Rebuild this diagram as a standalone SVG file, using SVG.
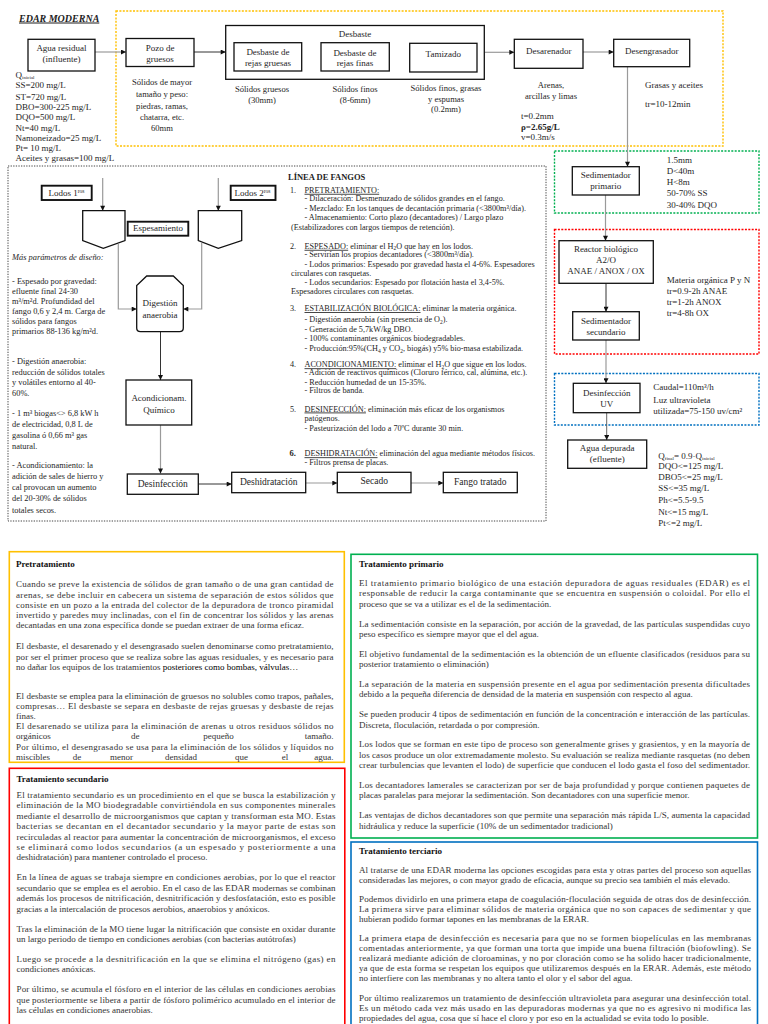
<svg xmlns="http://www.w3.org/2000/svg" width="768" height="1024" viewBox="0 0 768 1024">
<defs>
<marker id="ah" viewBox="0 0 10 10" refX="10" refY="5" markerWidth="5.5" markerHeight="5" markerUnits="userSpaceOnUse" orient="auto"><path d="M0,0 L10,5 L0,10 Z" fill="#111"/></marker>
</defs>
<style>
text{font-family:"Liberation Serif","Times New Roman",serif;fill:#1e1e1e}
.b{fill:#fff;stroke:#111;stroke-width:1.3}
.bl{fill:#fff;stroke:#111;stroke-width:1.9}
.l{font-size:9px;text-anchor:middle}
.l95{font-size:9.5px;text-anchor:middle}
.c{font-size:8.6px;text-anchor:middle}
.n{font-size:9px}
.m{font-size:8.4px}
.f{font-size:8.2px}
.g{stroke:#9a9a9a;stroke-width:1.2;fill:none;marker-end:url(#ah)}
.k{stroke:#333;stroke-width:1;fill:none;marker-end:url(#ah)}
.dy{fill:none;stroke:#FFC000;stroke-width:1.4;stroke-dasharray:2 1.4}
.dg{fill:none;stroke:#00B050;stroke-width:1.4;stroke-dasharray:2 1.4}
.dr{fill:none;stroke:#FF0000;stroke-width:1.4;stroke-dasharray:2 1.4}
.db{fill:none;stroke:#0070C0;stroke-width:1.4;stroke-dasharray:2 1.4}
.dk{fill:none;stroke:#444;stroke-width:1;stroke-dasharray:1.3 1.3}
.p{font-size:9px;fill:#333}
.h{font-size:9px;font-weight:bold;fill:#111}
.u{text-decoration:underline}
.fr{stroke-width:1.6;fill:none}
</style>
<rect width="768" height="1024" fill="#fff"/>

<!-- zone frames -->
<g id="zones">
<rect class="dy" x="116" y="11" width="607" height="135"/>
<rect class="dk" x="8" y="166" width="538" height="355"/>
<rect class="dg" x="554.5" y="151" width="204.5" height="62"/>
<rect class="dr" x="554.5" y="229.5" width="204.5" height="124.5"/>
<rect class="db" x="554.5" y="373.5" width="204.5" height="51.5"/>
</g>

<text x="19" y="21.5" font-size="10" font-weight="bold" font-style="italic" class="u">EDAR MODERNA</text>

<!-- connectors -->
<g id="connectors">
<path class="g" d="M95,52 H126"/>
<path class="k" d="M194,52 H225.7"/>
<path class="g" d="M302,57 H321"/>
<path class="g" d="M389,57 H409.5"/>
<path class="g" d="M484.3,52.3 H514.3"/>
<path class="g" d="M583,52 H613.7"/>
<path class="g" d="M627.5,67 V166.7"/>
<path class="g" d="M605.5,195 V240.7"/>
<path class="k" d="M606,283.3 V311.7"/>
<path class="g" d="M606,340 V383.3"/>
<path class="k" d="M606.7,412.7 V440" style="stroke:#666"/>
<path class="g" d="M102.7,178 V210.7"/>
<path class="g" d="M218.3,178 V210.7"/>
<path class="g" d="M118.3,244 V309 H136.7"/>
<path class="g" d="M201.7,243 V309 H183.3"/>
<path class="k" d="M160.5,332 V380"/>
<path class="g" d="M160.5,425 V473.5"/>
<path class="k" d="M198.3,484 H231.7"/>
<path class="g" d="M305.7,483 H337.3"/>
<path class="g" d="M411,483 H443.3"/>
</g>

<!-- water line nodes -->
<g id="n-agua"><rect class="b" x="28" y="39.3" width="67" height="31.7"/><text class="l" x="61.5" y="50.7">Agua residual</text><text class="l" x="61.5" y="62.3">(influente)</text></g>
<g id="n-pozo"><rect class="b" x="126" y="38.5" width="68" height="28"/><text class="l" x="160" y="50.7">Pozo de</text><text class="l" x="160" y="62">gruesos</text></g>
<g id="n-desbaste"><rect class="b" x="225.7" y="25.5" width="258.6" height="53.8"/><text class="l" x="355" y="36.7">Desbaste</text></g>
<g id="n-rejas-gruesas"><rect class="b" x="234" y="42.7" width="67.7" height="28.3"/><text class="l" x="268" y="54.7">Desbaste de</text><text class="l" x="268" y="65.7">rejas gruesas</text></g>
<g id="n-rejas-finas"><rect class="b" x="321" y="42.7" width="68.3" height="28.3"/><text class="l" x="355" y="55.7">Desbaste de</text><text class="l" x="355" y="66.3">rejas finas</text></g>
<g id="n-tamizado"><rect class="b" x="409.7" y="43.3" width="67.3" height="28.7"/><text class="l" x="443.3" y="57">Tamizado</text></g>
<g id="n-desarenador"><rect class="b" x="514.3" y="39.3" width="68.7" height="29"/><text class="l" x="548.7" y="53.7">Desarenador</text></g>
<g id="n-desengrasador"><rect class="b" x="613.7" y="39.3" width="76" height="27.4"/><text class="l" x="651.7" y="53.7">Desengrasador</text></g>
<g id="n-sed-primario"><rect class="b" x="572.3" y="166.7" width="67" height="28.3"/><text class="l" x="605.8" y="178">Sedimentador</text><text class="l" x="605.8" y="189">primario</text></g>
<g id="n-reactor"><rect class="b" x="559" y="240.7" width="94.3" height="42.6"/><text class="l" x="606" y="252">Reactor biológico</text><text class="l" x="606" y="263">A2/O</text><text class="l" x="606" y="274">ANAE / ANOX / OX</text></g>
<g id="n-sed-secundario"><rect class="b" x="572.7" y="311.7" width="66.6" height="28.3"/><text class="l" x="606" y="323.7">Sedimentador</text><text class="l" x="606" y="334.7">secundario</text></g>
<g id="n-uv"><rect class="b" x="573.3" y="383.3" width="66.7" height="29.4"/><text class="l" x="606.7" y="396.3">Desinfección</text><text class="l" x="606.7" y="407">UV</text></g>
<g id="n-agua-depurada"><rect class="b" x="567.7" y="440" width="79" height="28.3"/><text class="l" x="607.2" y="450.7">Agua depurada</text><text class="l" x="607.2" y="462.3">(efluente)</text></g>

<!-- water line annotations -->
<g id="notes-water">
<text class="n" x="15.5" y="78">Q<tspan font-size="5" dy="1">inicial</tspan></text>
<text class="n" x="15.5" y="87.8">SS=200 mg/L</text>
<text class="n" x="15.5" y="99.7">ST=720 mg/L</text>
<text class="n" x="15.5" y="110.3">DBO=300-225 mg/L</text>
<text class="n" x="15.5" y="120.3">DQO=500 mg/L</text>
<text class="n" x="15.5" y="130.7">Nt=40 mg/L</text>
<text class="n" x="15.5" y="140.7">Namoneizado=25 mg/L</text>
<text class="n" x="15.5" y="150.7">Pt= 10 mg/L</text>
<text class="n" x="15.5" y="161.3">Aceites y grasas=100 mg/L</text>
<text class="c" x="162" y="85">Sólidos de mayor</text>
<text class="c" x="162" y="96.7">tamaño y peso:</text>
<text class="c" x="162" y="109">piedras, ramas,</text>
<text class="c" x="162" y="120.3">chatarra, etc.</text>
<text class="c" x="162" y="130.7">60mm</text>
<text class="c" x="262" y="92.3">Sólidos gruesos</text>
<text class="c" x="262" y="102.7">(30mm)</text>
<text class="c" x="355" y="92.3">Sólidos finos</text>
<text class="c" x="355" y="102.7">(8-6mm)</text>
<text class="c" x="446" y="91.3">Sólidos finos, grasas</text>
<text class="c" x="446" y="102">y espumas</text>
<text class="c" x="446" y="112">(0.2mm)</text>
<text class="c" x="551" y="88">Arenas,</text>
<text class="c" x="551" y="99">arcillas y limas</text>
<text class="n" x="521" y="118.7" font-size="8.6">t=0.2mm</text>
<text class="n" x="521" y="129.7" font-size="8.6" font-weight="bold">ρ=2.65g/L</text>
<text class="n" x="521" y="140" font-size="8.6">v=0.3m/s</text>
<text class="n" x="645" y="88">Grasas y aceites</text>
<text class="n" x="645" y="107">tr=10-12min</text>
<text class="n" x="666.7" y="163">1.5mm</text>
<text class="n" x="666.7" y="174">D&lt;40m</text>
<text class="n" x="666.7" y="184.7">H&lt;8m</text>
<text class="n" x="666.7" y="196.3">50-70% SS</text>
<text class="n" x="666.7" y="208">30-40% DQO</text>
<text class="n" x="666.7" y="283">Materia orgánica P y N</text>
<text class="n" x="666.7" y="294">tr=0.9-2h ANAE</text>
<text class="n" x="666.7" y="304.7">tr=1-2h ANOX</text>
<text class="n" x="666.7" y="315.7">tr=4-8h OX</text>
<text class="n" x="653.3" y="390.3">Caudal=110m³/h</text>
<text class="n" x="653.3" y="403">Luz ultravioleta</text>
<text class="n" x="653.3" y="413.7">utilizada=75-150  uv/cm²</text>
<text class="n" x="658.3" y="458.7">Q<tspan font-size="5" dy="1">final</tspan><tspan dy="-1">= 0.9·Q</tspan><tspan font-size="5" dy="1">inicial</tspan></text>
<text class="n" x="658.3" y="469">DQO&lt;=125 mg/L</text>
<text class="n" x="658.3" y="480.3">DBO5&lt;=25 mg/L</text>
<text class="n" x="658.3" y="491.3">SS&lt;=35 mg/L</text>
<text class="n" x="658.3" y="503">Ph&lt;=5.5-9.5</text>
<text class="n" x="658.3" y="514.7">Nt&lt;=15 mg/L</text>
<text class="n" x="658.3" y="525.7">Pt&lt;=2 mg/L</text>
</g>

<!-- sludge line nodes -->
<g id="n-lodos1"><rect class="bl" x="41.7" y="185.7" width="50" height="14.3"/><text class="l" x="66.5" y="195.7">Lodos 1<tspan font-size="5.5" dy="-3">ros</tspan></text></g>
<g id="n-lodos2"><rect class="bl" x="230.7" y="185.7" width="44.8" height="14.3"/><text class="l" x="252.5" y="195.7">Lodos 2<tspan font-size="5.5" dy="-3">ros</tspan></text></g>
<g id="n-espes-1"><polygon class="b" points="82.7,210.7 125,210.7 125,240.5 103.3,248.3 82.7,240.5"/></g>
<g id="n-espes-2"><polygon class="b" points="198.3,210.7 241.7,210.7 241.7,240.5 218.3,248.3 198.3,240.5"/></g>
<g id="n-espesamiento"><rect class="bl" x="127.7" y="221.7" width="60.6" height="14"/><text class="l" x="158" y="231.3">Espesamiento</text></g>
<g id="n-digestion"><path class="b" d="M146.7,276 H173.3 L183.3,285.5 V328 Q183.3,331.7 179.5,331.7 H140.5 Q136.7,331.7 136.7,328 V285.5 Z"/><text class="l" x="160" y="306.3">Digestión</text><text class="l" x="160" y="318">anaerobia</text></g>
<g id="n-acond"><rect class="b" x="126" y="380" width="65.7" height="45"/><text class="l" x="159" y="400.7">Acondicionam.</text><text class="l" x="159" y="413">Químico</text></g>
<g id="n-desinf"><rect class="b" x="127.3" y="474" width="71" height="20.3"/><text class="l95" x="162.8" y="486.5">Desinfección</text></g>
<g id="n-deshid"><rect class="b" x="231.7" y="472.3" width="74" height="20.4"/><text class="l95" x="268.7" y="485">Deshidratación</text></g>
<g id="n-secado"><rect class="b" x="337.3" y="472.3" width="73.7" height="20.4"/><text class="l95" x="374.2" y="484">Secado</text></g>
<g id="n-fango"><rect class="b" x="443.3" y="472.3" width="74" height="20.4"/><text class="l95" x="480.3" y="485">Fango tratado</text></g>

<!-- sludge line design notes -->
<g id="notes-sludge">
<text class="m" x="12" y="259.7" font-style="italic">Más parámetros de diseño:</text>
<text class="m" x="12" y="283.7">- Espesado por gravedad:</text>
<text class="m" x="12" y="294">efluente final 24-30</text>
<text class="m" x="12" y="304">m³/m²d. Profundidad del</text>
<text class="m" x="12" y="314">fango 0,6 y 2,4 m. Carga de</text>
<text class="m" x="12" y="324">sólidos para fangos</text>
<text class="m" x="12" y="334">primarios 88-136 kg/m²d.</text>
<text class="m" x="12" y="364">- Digestión anaerobia:</text>
<text class="m" x="12" y="374.5">reducción de sólidos totales</text>
<text class="m" x="12" y="385">y volátiles entorno al 40-</text>
<text class="m" x="12" y="396">60%.</text>
<text class="m" x="12" y="416.3">- 1 m³ biogas&lt;&gt; 6,8 kW h</text>
<text class="m" x="12" y="427.3">de electricidad, 0,8 L de</text>
<text class="m" x="12" y="438">gasolina ó  0,66 m³ gas</text>
<text class="m" x="12" y="449">natural.</text>
<text class="m" x="12" y="468">- Acondicionamiento: la</text>
<text class="m" x="12" y="479">adición de sales de hierro y</text>
<text class="m" x="12" y="490.3">cal provocan un aumento</text>
<text class="m" x="12" y="501.3">del 20-30% de sólidos</text>
<text class="m" x="12" y="513">totales secos.</text>
</g>

<g id="notes-fangos">
<text x="288" y="179.5" font-size="8.5" font-weight="bold">LÍNEA DE FANGOS</text>
<text class="f" x="290" y="192.8">1.</text>
<text class="f" x="304.5" y="192.8"><tspan class="u">PRETRATAMIENTO:</tspan></text>
<text class="f" x="304.5" y="201.1">- Dilaceración: Desmenuzado de sólidos grandes en el fango.</text>
<text class="f" x="304.5" y="210.5">- Mezclado: En los tanques de decantación primaria (&lt;3800m³/día).</text>
<text class="f" x="304.5" y="219.5">- Almacenamiento: Corto plazo (decantadores) / Largo plazo</text>
<text class="f" x="291" y="229.5">(Estabilizadores con largos tiempos de retención).</text>
<text class="f" x="290" y="248.8">2.</text>
<text class="f" x="304.5" y="248.8"><tspan class="u">ESPESADO:</tspan> eliminar el H<tspan font-size="5.5" dy="1.5">2</tspan><tspan dy="-1.5">O que hay en los lodos.</tspan></text>
<text class="f" x="304.5" y="257.1">- Servirían los propios decantadores (&lt;3800m³/día).</text>
<text class="f" x="304.5" y="266.8">- Lodos primarios: Espesado por gravedad hasta el 4-6%. Espesadores</text>
<text class="f" x="291" y="275.5">circulares con rasquetas.</text>
<text class="f" x="304.5" y="285.1">- Lodos secundarios: Espesado por flotación hasta el 3,4-5%.</text>
<text class="f" x="291" y="293.8">Espesadores circulares con rasquetas.</text>
<text class="f" x="290" y="311.1">3.</text>
<text class="f" x="304.5" y="311.1"><tspan class="u">ESTABILIZACIÓN BIOLÓGICA:</tspan> eliminar la materia orgánica.</text>
<text class="f" x="304.5" y="322.1">- Digestión anaerobia (sin presencia de O<tspan font-size="5.5" dy="1.5">2</tspan><tspan dy="-1.5">).</tspan></text>
<text class="f" x="304.5" y="332.1">- Generación de 5,7kW/kg DBO.</text>
<text class="f" x="304.5" y="341.1">- 100% contaminantes orgánicos biodegradables.</text>
<text class="f" x="304.5" y="351.1">- Producción:95%(CH<tspan font-size="5.5" dy="1.5">4</tspan><tspan dy="-1.5"> y CO</tspan><tspan font-size="5.5" dy="1.5">2</tspan><tspan dy="-1.5">, biogás) y5% bio-masa estabilizada.</tspan></text>
<text class="f" x="290" y="367.3">4.</text>
<text class="f" x="304.5" y="367.3"><tspan class="u">ACONDICIONAMIENTO:</tspan> eliminar el H<tspan font-size="5.5" dy="1.5">2</tspan><tspan dy="-1.5">O que sigue en los lodos.</tspan></text>
<text class="f" x="304.5" y="375.3">- Adición de reactivos químicos (Cloruro férrico, cal, alúmina, etc.).</text>
<text class="f" x="304.5" y="384.5">- Reducción humedad de un 15-35%.</text>
<text class="f" x="304.5" y="393.1">- Filtros de banda.</text>
<text class="f" x="290" y="411.5">5.</text>
<text class="f" x="304.5" y="411.5"><tspan class="u">DESINFECCIÓN:</tspan> eliminación más eficaz de los organismos</text>
<text class="f" x="304.5" y="420.7">patógenos.</text>
<text class="f" x="304.5" y="430.7">-  Pasteurización del lodo a 70ºC durante 30 min.</text>
<text x="289.5" y="456.3" font-size="8.5" font-weight="bold" font-family="Liberation Sans, Arial, sans-serif">6.</text>
<text class="f" x="304.5" y="456.3"><tspan class="u">DESHIDRATACIÓN:</tspan> eliminación del agua mediante métodos físicos.</text>
<text class="f" x="304.5" y="465">- Filtros prensa de placas.</text>
</g>

<!-- text panels -->
<g id="panel-pretratamiento">
<rect class="fr" x="9.3" y="551.7" width="335" height="210.6" stroke="#FFC000"/>
<text class="h" x="16" y="567.3">Pretratamiento</text>
<text class="p" x="16" y="587.3" textLength="317.5" lengthAdjust="spacing">Cuando se preve la existencia de sólidos de gran tamaño o de una gran cantidad de</text>
<text class="p" x="16" y="597.5" textLength="317.5" lengthAdjust="spacing">arenas, se debe incluir en cabecera un sistema de separación de estos sólidos que</text>
<text class="p" x="16" y="607.7" textLength="317.5" lengthAdjust="spacing">consiste en un pozo a la entrada del colector de la depuradora de tronco piramidal</text>
<text class="p" x="16" y="617.9" textLength="317.5" lengthAdjust="spacing">invertido y paredes muy inclinadas, con el fin de concentrar los sólidos y las arenas</text>
<text class="p" x="16" y="628.1">decantadas en una zona específica donde se puedan extraer de una forma eficaz.</text>
<text class="p" x="16" y="649.3" textLength="317.5" lengthAdjust="spacing">El desbaste, el desarenado y el desengrasado suelen denominarse como pretratamiento,</text>
<text class="p" x="16" y="659.5" textLength="317.5" lengthAdjust="spacing">por ser el primer proceso que se realiza sobre las aguas residuales, y es necesario para</text>
<text class="p" x="16" y="669.7">no dañar los equipos de los tratamientos <tspan fill="#000">posteriores como bombas, válvulas…</tspan></text>
<text class="p" x="16" y="698.5" textLength="317.5" lengthAdjust="spacing">El desbaste se emplea para la eliminación de gruesos no solubles como trapos, pañales,</text>
<text class="p" x="16" y="708.7" textLength="317.5" lengthAdjust="spacing">compresas… El desbaste se separa en desbaste de rejas gruesas y desbaste de rejas</text>
<text class="p" x="16" y="718.9">finas.</text>
<text class="p" x="16" y="729.1" textLength="317.5" lengthAdjust="spacing">El desarenado se utiliza para la eliminación de arenas u otros residuos sólidos no</text>
<text class="p" x="16" y="739.3">orgánicos</text>
<text class="p" x="131" y="739.3">de</text>
<text class="p" x="203.3" y="739.3">pequeño</text>
<text class="p" x="333.5" y="739.3" text-anchor="end">tamaño.</text>
<text class="p" x="16" y="749.5" textLength="317.5" lengthAdjust="spacing">Por último, el desengrasado se usa para la eliminación de los sólidos y líquidos no</text>
<text class="p" x="16" y="759.7">miscibles</text>
<text class="p" x="72.7" y="759.7">de</text>
<text class="p" x="110" y="759.7">menor</text>
<text class="p" x="165" y="759.7">densidad</text>
<text class="p" x="235" y="759.7">que</text>
<text class="p" x="281.7" y="759.7">el</text>
<text class="p" x="333.5" y="759.7" text-anchor="end">agua.</text>
</g>

<g id="panel-secundario">
<rect class="fr" x="9.3" y="768.3" width="335.5" height="262" stroke="#FF0000"/>
<text class="h" x="16.5" y="782.3">Tratamiento secundario</text>
<text class="p" x="16.5" y="798" textLength="319" lengthAdjust="spacing">El tratamiento secundario es un procedimiento en el que se busca la estabilización y</text>
<text class="p" x="16.5" y="808.4" textLength="319" lengthAdjust="spacing">eliminación de la MO biodegradable convirtiéndola en sus componentes minerales</text>
<text class="p" x="16.5" y="818.8" textLength="319" lengthAdjust="spacing">mediante el desarrollo de microorganismos que captan y transforman esta MO.  Estas</text>
<text class="p" x="16.5" y="829.2" textLength="319" lengthAdjust="spacing">bacterias se decantan en el decantador secundario y la mayor parte de estas son</text>
<text class="p" x="16.5" y="839.6" textLength="319" lengthAdjust="spacing">recirculadas al reactor para aumentar la concentración de microorganismos, el exceso</text>
<text class="p" x="16.5" y="850" textLength="319" lengthAdjust="spacing">se eliminará como lodos secundarios (a un espesado y posteriormente a una</text>
<text class="p" x="16.5" y="860.4">deshidratación) para mantener controlado el proceso.</text>
<text class="p" x="16.5" y="880.4" textLength="319" lengthAdjust="spacing">En la línea de aguas se trabaja siempre en condiciones aerobias, por lo que el reactor</text>
<text class="p" x="16.5" y="890.8" textLength="319" lengthAdjust="spacing">secundario que se emplea es el aerobio. En el caso de las EDAR modernas se combinan</text>
<text class="p" x="16.5" y="901.2" textLength="319" lengthAdjust="spacing">además los procesos de nitrificación, desnitrificación y desfosfatación, esto es posible</text>
<text class="p" x="16.5" y="911.6">gracias a la intercalación de procesos aerobios, anaerobios y anóxicos.</text>
<text class="p" x="16.5" y="931.6" textLength="319" lengthAdjust="spacing">Tras la eliminación de la MO tiene lugar la nitrificación que consiste en oxidar durante</text>
<text class="p" x="16.5" y="942">un largo periodo de tiempo en condiciones aerobias (con bacterias autótrofas)</text>
<text class="p" x="16.5" y="962" textLength="319" lengthAdjust="spacing">Luego se procede a la desnitrificación en la que se elimina el nitrógeno (gas) en</text>
<text class="p" x="16.5" y="972.4">condiciones anóxicas.</text>
<text class="p" x="16.5" y="992.4" textLength="319" lengthAdjust="spacing">Por último, se acumula el fósforo en el interior de las células en condiciones aerobias</text>
<text class="p" x="16.5" y="1002.8" textLength="319" lengthAdjust="spacing">que posteriormente se libera a partir de fósforo polimérico acumulado en el interior de</text>
<text class="p" x="16.5" y="1013.2">las células en condiciones anaerobias.</text>
</g>

<g id="panel-primario">
<rect class="fr" x="351" y="554.3" width="406.5" height="283.7" stroke="#00B050"/>
<text class="h" x="359" y="567">Tratamiento primario</text>
<text class="p" x="359" y="586" textLength="391" lengthAdjust="spacing">El tratamiento primario biológico de una estación depuradora de aguas residuales (EDAR) es el</text>
<text class="p" x="359" y="596.4" textLength="391" lengthAdjust="spacing">responsable de reducir la carga contaminante que se encuentra en suspensión o coloidal. Por ello el</text>
<text class="p" x="359" y="606.8">proceso que se va a utilizar es el de la sedimentación.</text>
<text class="p" x="359" y="626.6" textLength="391" lengthAdjust="spacing">La sedimentación consiste en la separación, por acción de la gravedad, de las partículas suspendidas cuyo</text>
<text class="p" x="359" y="637">peso específico es siempre mayor que el del agua.</text>
<text class="p" x="359" y="656.8" textLength="391" lengthAdjust="spacing">El objetivo fundamental de la sedimentación es la obtención de un efluente clasificados (residuos para su</text>
<text class="p" x="359" y="667.2">posterior tratamiento o eliminación)</text>
<text class="p" x="359" y="687" textLength="391" lengthAdjust="spacing">La separación de la materia en suspensión presente en el agua por sedimentación presenta dificultades</text>
<text class="p" x="359" y="697.4">debido a la pequeña diferencia de densidad de la materia en suspensión con respecto al agua.</text>
<text class="p" x="359" y="717.2" textLength="391" lengthAdjust="spacing">Se pueden producir 4 tipos de sedimentación en función de la concentración e interacción de las partículas.</text>
<text class="p" x="359" y="727.6">Discreta, floculación, retardada o por compresión.</text>
<text class="p" x="359" y="747.4" textLength="391" lengthAdjust="spacing">Los lodos que se forman en este tipo de proceso son generalmente grises y grasientos, y en la mayoría de</text>
<text class="p" x="359" y="757.8" textLength="391" lengthAdjust="spacing">los casos produce un olor extremadamente molesto. Su evaluación se realiza mediante rasquetas (no deben</text>
<text class="p" x="359" y="768.2" textLength="391" lengthAdjust="spacing">crear turbulencias que levanten el lodo) de superficie que conducen el lodo gasta el foso del sedimentador.</text>
<text class="p" x="359" y="788" textLength="391" lengthAdjust="spacing">Los decantadores lamerales se caracterizan por ser de baja profundidad y porque contienen paquetes de</text>
<text class="p" x="359" y="798.4">placas paralelas para mejorar la sedimentación. Son decantadores con una superficie menor.</text>
<text class="p" x="359" y="818.2" textLength="391" lengthAdjust="spacing">Las ventajas de dichos decantadores son que permite una separación más rápida L/S, aumenta la capacidad</text>
<text class="p" x="359" y="828.6">hidráulica y reduce la superficie (10% de un sedimentador tradicional)</text>
</g>

<g id="panel-terciario">
<rect class="fr" x="351" y="842" width="406.5" height="190" stroke="#0070C0"/>
<text class="h" x="359" y="853.5">Tratamiento terciario</text>
<text class="p" x="359" y="872.6" textLength="392" lengthAdjust="spacing">Al tratarse de una EDAR moderna las opciones escogidas para esta y otras partes del proceso son aquellas</text>
<text class="p" x="359" y="882.6">consideradas las mejores, o con mayor grado de eficacia, aunque su precio sea también el más elevado.</text>
<text class="p" x="359" y="902" textLength="392" lengthAdjust="spacing">Podemos dividirlo en una primera etapa de coagulación-floculación seguida de otras dos de desinfección.</text>
<text class="p" x="359" y="912" textLength="392" lengthAdjust="spacing">La primera sirve para eliminar sólidos de materia orgánica que no son capaces de sedimentar y que</text>
<text class="p" x="359" y="922">hubieran podido formar tapones en las membranas de la ERAR.</text>
<text class="p" x="359" y="941.4" textLength="392" lengthAdjust="spacing">La primera etapa de desinfección es necesaria para que no se formen biopelículas en las membranas</text>
<text class="p" x="359" y="951.4" textLength="392" lengthAdjust="spacing">comentadas anteriormente, ya que forman una torta que impide una buena filtración (biofowling). Se</text>
<text class="p" x="359" y="961.4" textLength="392" lengthAdjust="spacing">realizará mediante adición de cloroaminas, y no por cloración como se ha solido hacer tradicionalmente,</text>
<text class="p" x="359" y="971.4" textLength="392" lengthAdjust="spacing">ya que de esta forma se respetan los equipos que utilizaremos después en la ERAR. Además, este método</text>
<text class="p" x="359" y="981.4">no interfiere con las membranas y no altera tanto el olor y el sabor del agua.</text>
<text class="p" x="359" y="1000.8" textLength="392" lengthAdjust="spacing">Por último realizaremos un tratamiento de desinfección ultravioleta para asegurar una desinfección total.</text>
<text class="p" x="359" y="1010.8" textLength="392" lengthAdjust="spacing">Es un método cada vez más usado en las depuradoras modernas ya que no es agresivo ni modifica las</text>
<text class="p" x="359" y="1020.6">propiedades del agua, cosa que sí hace el cloro y por eso en la actualidad se evita todo lo posible.</text>
</g>
</svg>
